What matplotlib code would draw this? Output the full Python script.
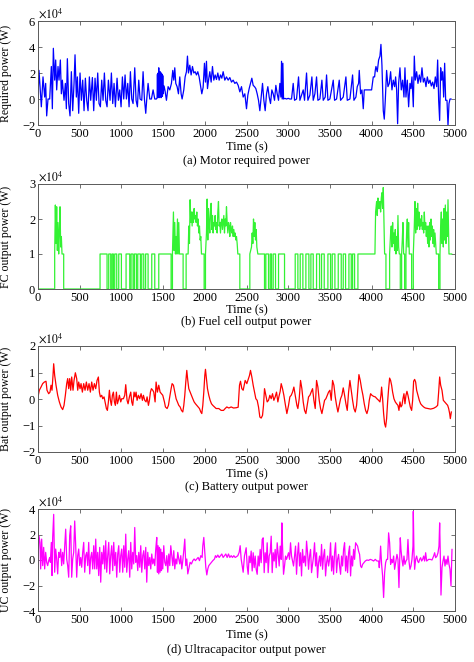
import matplotlib
matplotlib.use('Agg')
import matplotlib.pyplot as plt

# ---------------- data (values in units of 1e4 W) ----------------
t_req = [0,12,40,60,80,92,104,120,140,160,172,184,200,212,224,240,252,268,280,292,312,328,340,352,368,384,400,416,432,444,460,472,488,504,520,536,552,568,584,600,616,632,652,668,684,700,716,732,748,764,780,796,812,828,844,864,880,896,912,928,948,964,980,996,1012,1028,1044,1060,1076,1092,1108,1124,1140,1160,1176,1192,1208,1224,1244,1260,1276,1292,1304,1320,1340,1360,1380,1400,1420,
         1428,1432,1436,1440,1444,1448,1452,1456,1460,1464,1468,1472,1476,1480,1484,1488,1492,1496,1500,
         1512,1524,1540,1560,1580,1600,1616,1628,1640,1652,1668,1684,1700,1716,1728,1748,1764,1780,1792,1804,1820,1836,1852,1868,1884,1900,1916,1932,1948,1964,1980,1996,2008,2020,2032,2048,2060,2076,2092,2108,2124,2140,2156,2172,2188,2204,2220,2240,2260,2280,2300,2320,2340,2360,2380,2400,2420,2440,2460,2480,2500,2516,2532,2548,2564,2580,2596,2612,2628,2644,2660,2676,2692,2708,2724,2740,2756,2772,2788,2804,2820,2836,2852,2868,2884,2900,2912,2920,2928,2936,2944,2960,2980,3000,3020,3040,3060,3076,3100,3124,3140,3160,3180,3196,3220,3236,3260,3284,3300,3320,3340,3356,3380,3404,3420,3444,3460,3476,3500,3540,3556,3580,3612,3628,3660,3692,3708,3740,3772,3788,3812,3828,3844,3852,3868,3884,3900,3912,3960,4000,4020,4036,4044,4052,4068,4084,4100,4112,4124,4132,4140,4152,4164,4180,4196,4212,4228,4244,4260,4276,4288,4300,4312,4324,4340,4356,4372,4388,4400,4412,4428,4444,4460,4472,4484,4500,4512,4524,4540,4556,4572,4588,4604,4620,4636,4652,4668,4684,4700,4716,4732,4748,4764,4780,4792,4804,4816,4828,4840,4852,4864,4876,4888,4904,4916,4928,4940,4952]
p_req = [0.1,2.2,-0.6,1.7,0.15,1.2,-1.3,0.0,0.0,2.5,-0.75,3.9,1.45,3.0,0.7,2.5,1.45,3.0,0.4,1.45,-0.1,1.2,-0.75,3.1,-0.35,-1.3,2.1,-0.9,1.2,3.4,0.15,1.7,-1.1,2.0,-0.1,1.45,-0.9,1.6,-0.1,-0.9,1.7,-0.1,1.65,-0.9,1.6,-0.1,2.0,-0.35,-0.6,1.45,-0.1,2.0,-0.1,-0.6,1.45,-0.1,2.0,-0.35,1.2,-0.6,1.6,-0.1,0.7,-0.6,1.7,0.0,1.85,0.0,1.2,-0.6,2.1,0.0,-0.35,2.4,-0.1,-0.6,1.45,0.0,-0.1,2.1,0.0,-1.1,0.0,1.2,0.0,0.0,0.7,0.0,0.0,
         0.1,1.9,0.1,2.0,0.2,2.4,0.1,2.0,0.3,2.1,0.2,1.9,0.1,2.0,0.4,1.9,0.2,1.8,0.4,
         1.0,0.6,-0.1,0.95,0.7,1.2,2.2,1.45,2.4,1.2,0.95,0.4,1.7,0.4,0.0,0.7,1.7,2.1,3.3,2.0,2.6,1.85,2.5,2.0,2.1,1.85,2.1,1.7,1.05,0.4,0.9,2.75,1.3,2.9,0.8,1.6,2.1,1.3,2.5,1.45,1.85,1.5,2.0,1.45,1.85,1.6,2.1,1.45,1.7,1.45,1.65,1.3,1.45,1.2,1.3,1.05,0.55,0.95,0.15,0.4,-0.75,0.3,0.8,1.2,1.6,1.05,0.95,0.8,0.4,-0.1,-0.9,0.15,1.2,-0.1,-0.9,0.4,0.95,0.15,-0.35,0.7,0.4,-0.1,1.05,0.4,-0.1,1.2,0.15,2.9,0.0,2.75,0.0,0.05,0.0,0.05,0.0,0.0,1.2,-0.1,0.0,1.7,-0.1,0.3,0.7,-0.1,2.0,-0.1,0.3,1.7,-0.1,0.4,1.7,-0.1,0.0,1.45,-0.1,0.15,1.85,-0.1,0.0,1.45,-0.1,0.0,1.45,-0.1,0.15,1.7,-0.1,0.0,1.85,-0.1,0.15,0.95,1.2,2.2,0.4,0.7,-0.75,0.7,0.7,0.7,1.7,1.7,2.2,2.5,2.1,3.0,3.3,4.2,2.6,0.95,-0.9,-1.55,-0.1,2.2,0.95,1.2,2.1,0.7,1.45,0.95,1.7,0.7,-1.9,1.2,2.4,0.7,1.45,0.15,2.4,0.15,1.45,-0.6,1.2,0.8,1.7,-0.6,3.3,1.45,2.1,1.2,1.85,1.3,2.4,1.3,1.6,0.95,1.7,1.2,1.45,1.0,1.3,0.8,1.7,0.95,3.0,-0.1,-1.65,2.4,1.45,2.1,0.15,2.75,-0.1,-0.1,-2.05,-0.35,0.0,0.0]

t_fc = [0,200,200,208,216,224,232,240,248,256,264,272,280,288,300,308,308,744,744,828,828,848,848,872,872,888,888,904,904,920,920,944,944,968,968,1000,1000,1056,1056,1100,1100,1116,1116,1140,1140,1156,1156,1180,1180,1196,1196,1228,1228,1244,1244,1268,1268,1290,1290,1320,1320,1364,1364,1400,1400,1448,1448,1596,1596,1612,1612,
        1624,1632,1640,1648,1656,1664,1672,1680,1688,1696,1720,1740,1740,1776,1776,1800,1808,1816,1824,1832,1840,1848,1856,1864,1872,1880,1888,1896,1904,1912,1920,1928,1936,1944,1952,1960,1992,1992,2008,2008,
        2020,2028,2036,2044,2052,2060,2068,2076,2084,2092,2100,2108,2116,2124,2132,2140,2148,2156,2164,2172,2180,2188,2196,2204,2212,2220,2228,2236,2244,2252,2260,2268,2276,2284,2292,2300,2308,2316,2324,2332,2340,2348,2356,2364,2372,2380,2388,2396,2420,2420,2540,2540,
        2560,2568,2576,2584,2592,2600,2608,2616,2624,2636,2716,2716,2732,2732,2764,2764,2784,2784,2800,2800,2820,2820,2848,2848,2884,2884,2956,2956,3084,3084,3116,3116,3144,3144,3176,3176,3212,3212,3248,3248,3272,3272,3300,3300,3340,3340,3376,3376,3400,3400,3432,3432,3476,3476,3508,3508,3528,3528,3560,3560,3600,3600,3636,3636,3660,3660,3688,3688,3728,3728,3756,3756,3772,3772,3796,3796,3836,3836,
        4040,4048,4060,4068,4076,4084,4092,4100,4108,4116,4124,4132,4140,4148,4156,4172,4172,4216,4216,4228,4236,4244,4252,4260,4268,4276,4284,4292,4300,4308,4316,4324,4332,4344,4344,4360,4360,4368,4376,4384,4396,4396,4412,4412,4420,4428,4436,4444,4452,4480,4480,4500,4500,
        4512,4520,4528,4536,4544,4552,4560,4568,4576,4584,4592,4600,4608,4616,4624,4632,4640,4648,4656,4664,4672,4680,4688,4696,4704,4712,4720,4728,4736,4744,4752,4760,4768,4776,4784,4804,4804,4820,4820,4828,4836,4844,4852,4860,4868,4876,4884,4892,4900,4908,4916,4928,4960]
p_fc = [0,0,1.0,2.4,1.3,2.35,1.1,1.9,1.0,1.6,2.35,1.2,1.5,1.0,1.0,1.0,0,0,1,1,0,0,1,1,0,0,1,1,0,0,1,1,0,0,1,1,0,0,1,1,0,0,1,1,0,0,1,1,0,0,1,1,0,0,1,1,0,0,1,1,0,0,1,1,0,0,1,1,0,0,1,
        2.2,1.1,1.9,1.0,1.5,1.0,2.0,1.0,1.9,1.0,1.0,1.0,0,0,1.0,1.0,1.8,1.3,2.55,1.9,2.2,1.8,2.2,1.9,2.3,2.0,2.1,1.9,2.2,1.8,2.0,1.6,1.8,1.4,1.5,1.0,1.0,0,0,1.0,
        1.6,2.57,1.4,2.3,1.9,1.6,2.2,2.45,1.7,2.1,1.6,1.9,1.8,2.1,1.7,1.9,1.6,2.2,2.5,1.8,1.9,1.6,1.9,2.0,1.7,1.9,2.1,1.6,2.0,1.8,2.35,1.9,1.6,1.9,1.8,1.5,1.9,1.7,1.6,1.8,1.5,1.7,1.5,1.6,1.4,1.5,1.3,1.0,1.0,0,0,1.0,
        1.2,1.6,1.3,2.0,1.5,1.9,1.4,1.7,1.2,1.0,1.0,0,0,1,1,0,0,1,1,0,0,1,1,0,0,1,1,0,0,1,1,0,0,1,1,0,0,1,1,0,0,1,1,0,0,1,1,0,0,1,1,0,0,1,1,0,0,1,1,0,0,1,1,0,0,1,1,0,0,1,1,0,0,1,1,0,0,1,
        1.0,2.2,2.5,2.1,2.6,2.3,2.3,2.5,2.2,2.6,2.75,2.3,2.9,2.0,1.0,1.0,0,0,1.0,1.6,1.8,1.2,1.9,1.3,1.6,1.1,1.7,1.0,1.5,1.1,2.1,1.2,1.0,1.0,0,0,1.0,1.4,1.9,1.0,1.0,0,0,1.0,1.6,2.0,1.2,1.9,1.0,1.0,0,0,1.0,
        1.8,2.5,1.6,2.3,1.7,2.45,1.8,2.2,1.7,2.0,1.8,2.1,1.7,1.9,1.6,2.2,1.7,1.9,1.5,1.8,1.3,1.8,1.2,1.9,1.4,2.0,1.5,1.8,1.3,1.7,1.2,1.6,1.3,1.0,1.0,1.0,0,0,1.0,1.8,2.2,1.3,2.0,1.2,2.3,1.4,2.4,1.3,2.2,1.5,2.55,1.0,1.0]

t_bat = [0,16,36,56,76,96,108,128,144,156,168,180,188,200,216,236,256,276,296,312,328,344,356,368,380,392,404,420,432,448,464,476,488,504,516,532,548,564,580,596,612,628,644,660,676,692,708,724,736,748,764,776,792,808,820,832,844,856,868,880,892,904,916,928,940,952,964,976,992,1004,1024,1040,1052,1068,1080,1096,1112,1124,1136,1152,1164,1176,1188,1204,1220,1236,1252,1264,1280,1296,1308,1324,1336,1348,1360,1376,1388,1404,1416,1432,1448,1464,1480,1496,1516,1528,1548,1564,1576,1596,1608,1624,1640,1656,1672,1688,1704,1720,1736,1748,1760,1772,1784,1796,1808,1824,1840,1856,1872,1888,1904,1920,1936,1952,1964,1976,1988,2000,2008,2020,2032,2048,2064,2080,2096,2116,2136,2168,2196,2224,2244,2264,2288,2316,2344,2376,2400,2416,2428,2444,2460,2476,
         2484,2504,2524,2536,2548,2564,2580,2596,2612,2628,2644,2660,2676,2692,2704,2716,2732,2748,2764,2780,2796,2812,2828,2844,2860,2876,2888,2904,2916,2932,2948,2964,2984,3004,3020,3036,3052,3068,3084,3104,3116,3132,3148,3164,3180,3196,3212,3228,3244,3260,3276,3292,3308,3324,3340,3356,3372,3388,3404,3420,3436,3452,3468,3484,3500,3516,3532,3548,3564,3580,3596,3612,3628,3644,3660,3676,3692,3708,3724,3740,3756,3772,3788,3804,3820,3836,3848,3864,3880,3896,3912,3928,3944,3960,3972,3988,4004,4024,4044,4064,4084,4100,4112,4120,4132,4144,4156,4168,4180,4192,4204,4216,4228,4240,4252,4268,4284,4300,4316,4328,4340,4352,4364,4376,4388,4400,4412,4424,4436,4448,4464,4480,4492,4504,4516,4528,4540,4556,4572,4588,4604,4624,4644,4676,4708,4744,4772,4792,4804,4816,4828,4844,4860,4876,4896,4912,4924,4936,4944,4956]
p_bat = [0.08,0.33,0.45,0.58,0.64,0.67,0.33,0.2,0.26,0.52,0.33,0.89,1.33,0.89,0.52,0.14,-0.11,-0.3,-0.4,-0.24,0.14,0.58,0.77,0.39,0.77,0.33,0.83,0.33,0.7,0.99,0.77,0.33,0.64,0.39,0.58,0.26,0.58,0.33,0.64,0.33,0.58,0.26,0.64,0.33,0.58,0.39,0.7,0.83,0.26,0.08,0.14,0.01,0.08,-0.18,-0.36,-0.43,-0.11,0.33,-0.05,-0.24,0.14,0.26,-0.11,-0.24,0.26,-0.18,-0.05,0.14,-0.11,0.01,0.01,0.14,0.54,-0.05,-0.18,0.08,0.26,-0.11,-0.24,0.26,0.08,0.26,-0.05,0.14,0.01,0.2,-0.05,0.14,-0.05,-0.11,0.08,-0.24,-0.05,0.26,0.39,0.33,0.26,-0.11,0.64,0.26,0.52,0.26,0.2,0.14,-0.11,-0.3,-0.36,-0.24,0.01,0.39,0.58,0.52,0.26,0.01,-0.11,-0.24,-0.3,-0.43,-0.49,-0.24,0.14,0.64,1.08,0.7,0.39,0.26,0.14,0.01,-0.11,-0.18,-0.24,-0.3,-0.36,-0.49,-0.55,-0.24,0.26,0.89,1.12,0.77,0.39,0.14,-0.05,-0.18,-0.24,-0.3,-0.36,-0.36,-0.43,-0.43,-0.36,-0.3,-0.34,-0.3,-0.34,-0.33,-0.31,0.52,0.67,0.39,0.33,0.58,
         0.7,0.58,0.77,0.89,1.08,0.83,0.52,0.26,0.01,-0.05,-0.3,-0.68,-0.72,-0.62,-0.24,0.39,0.14,-0.11,-0.05,0.14,0.01,0.2,-0.05,0.08,0.26,-0.11,0.08,0.29,0.58,0.39,0.14,-0.18,-0.55,-0.24,0.08,0.14,0.26,0.45,0.14,-0.24,-0.36,0.01,0.7,0.39,-0.11,-0.43,-0.55,-0.24,0.08,0.14,0.26,0.39,-0.05,-0.36,0.7,0.45,-0.05,-0.36,-0.55,-0.3,-0.05,0.01,0.14,0.26,0.33,-0.05,0.7,0.52,0.08,-0.24,-0.49,-0.24,0.01,0.14,0.42,0.14,-0.18,-0.43,0.26,0.7,0.33,-0.05,-0.36,-0.49,-0.24,0.45,0.92,0.7,0.39,0.14,-0.18,-0.43,-0.55,-0.36,-0.05,0.2,0.14,0.1,0.08,0.01,-0.05,-0.11,0.14,0.45,0.01,-0.55,-0.93,-1.06,-0.74,-0.11,0.39,0.79,0.7,0.52,0.26,0.01,-0.11,-0.18,-0.24,-0.43,-0.11,-0.3,-0.24,0.01,0.2,-0.18,0.14,0.29,0.14,-0.05,-0.3,-0.43,-0.05,0.67,0.74,0.64,0.33,0.14,-0.05,-0.18,-0.24,-0.3,-0.34,-0.36,-0.38,-0.35,-0.3,-0.24,0.26,0.83,0.52,0.33,-0.05,-0.11,-0.18,-0.24,-0.36,-0.55,-0.74,-0.49]

t_uc = [0,12,24,32,44,56,68,80,92,104,116,128,140,148,160,168,176,188,200,212,224,236,248,260,272,284,296,308,320,332,344,356,368,380,392,404,416,428,440,452,464,476,488,500,512,524,536,548,560,572,584,596,608,620,632,644,656,668,680,692,704,716,728,740,752,764,776,788,800,812,824,836,848,860,872,884,896,908,920,932,944,956,968,980,992,1004,1016,1028,1040,1052,1064,1076,1088,1100,1112,1124,1136,1148,1160,1172,1184,1196,1208,1220,1232,1244,1256,1268,1280,1292,1304,1316,1328,1340,1352,1364,1376,1388,1400,1412,1424,1432,1440,1448,1456,1464,1472,1480,1488,1496,1508,1520,1532,1544,1556,1568,1580,1592,1604,1616,1628,1640,1652,1664,1676,1688,1700,1712,1724,1736,1748,1760,1772,1784,1796,1808,1824,1840,1856,1872,1888,1904,1920,1936,1952,1968,1976,1988,2000,2012,2024,2036,2048,2064,2080,2096,2116,2128,2140,2156,2172,2188,2204,2220,2236,2252,2268,2284,2300,2316,2332,2348,2364,2380,2396,2412,2424,2436,2448,2460,2476,
        2484,2496,2508,2520,2532,2544,2556,2568,2580,2592,2604,2616,2628,2640,2652,2664,2676,2688,2700,2712,2724,2736,2748,2760,2772,2784,2796,2808,2820,2832,2844,2856,2868,2880,2892,2904,2916,2924,2932,2944,2956,2968,2980,2992,3004,3016,3028,3040,3052,3064,3076,3088,3100,3112,3124,3136,3148,3160,3172,3184,3196,3208,3220,3232,3244,3256,3268,3280,3292,3304,3316,3328,3340,3352,3364,3376,3388,3400,3412,3424,3436,3448,3460,3472,3484,3496,3508,3520,3532,3544,3556,3568,3580,3592,3604,3616,3628,3640,3652,3664,3676,3688,3700,3712,3724,3736,3748,3760,3772,3784,3796,3808,3820,3832,3844,3856,3868,3880,3892,3908,3924,3944,3964,3984,4004,4024,4044,4064,4084,4092,4100,4108,4120,4132,4144,4156,4168,4180,4192,4204,4216,4228,4240,4252,4264,4276,4288,4304,4316,4328,4336,4344,4352,4364,4376,4388,4400,4412,4424,4436,4448,4460,4472,4484,4496,4500,4508,4516,4528,4540,4552,4564,4576,4588,4600,4612,4624,4636,4648,4660,4684,4704,4724,4744,4756,4768,4784,4796,4808,4816,4824,4832,4844,4856,4868,4880,4892,4904,4916,4928,4940,4952,4964]
p_uc = [0.08,1.9,1.38,-0.7,1.64,-0.44,0.99,-0.7,0.6,-0.18,-0.44,-0.05,0.2,-0.18,1.38,-1.22,1.77,3.58,-0.96,0.86,0.08,-1.09,0.6,0.2,0.86,-0.44,0.6,-0.31,0.99,2.42,0.08,-0.44,-1.35,1.9,2.68,-1.35,0.08,0.6,3.06,1.12,-1.35,0.34,0.86,-0.44,0.2,-0.57,0.6,1.38,-0.96,0.34,0.6,-0.44,1.38,-1.09,0.2,0.6,-0.7,1.12,-0.7,1.64,-0.7,0.6,-1.22,0.99,-1.74,0.6,-0.31,1.12,-0.7,1.51,-0.96,0.34,1.38,-1.09,0.34,1.12,-0.83,1.38,-0.44,0.6,-1.35,0.47,1.12,-0.96,0.34,0.86,-0.96,1.12,-0.57,2.03,-0.96,0.08,0.73,-1.35,1.38,-0.7,0.6,-0.31,2.55,-0.18,0.34,-0.83,0.6,-0.57,1.12,-0.96,0.34,0.73,-0.7,0.99,-1.74,0.6,-0.44,0.2,-0.7,0.47,-0.31,0.08,-0.44,0.86,1.77,-0.96,1.12,-1.09,0.99,-0.96,0.86,-0.83,0.6,-0.7,1.12,-0.18,-0.44,0.34,-0.96,0.47,-0.44,1.12,0.34,-0.44,0.73,-0.7,0.08,-0.31,0.6,0.08,-0.31,0.34,-0.7,-0.05,0.73,1.64,-0.44,0.08,-1.09,-0.7,-0.18,-0.31,-0.05,0.08,-0.05,0.08,0.2,-0.05,0.34,0.2,1.12,1.77,0.6,-0.57,-1.17,-0.7,-0.44,-0.31,-0.18,-0.05,0.08,0.34,0.2,0.39,0.2,0.34,0.47,0.2,0.34,0.47,0.2,0.47,0.2,0.34,0.2,0.34,0.2,0.26,0.34,0.6,1.12,0.08,-0.44,-0.96,0.34,
        0.57,0.96,-0.47,-1.12,0.31,-0.21,0.7,-0.86,0.57,-0.6,0.31,-0.73,-1.12,0.31,-0.47,0.83,-0.21,1.61,1.74,-0.99,0.57,-0.21,1.35,-0.99,0.31,0.57,1.87,-0.99,0.57,-0.08,0.83,-0.6,1.35,0.44,-0.47,1.09,0.05,2.91,1.09,-1.12,-0.47,0.31,0.05,0.31,0.57,0.05,1.35,0.31,-0.08,-0.47,0.31,1.09,-1.12,0.44,1.35,-0.47,0.57,-1.25,0.83,-0.21,0.31,-0.47,1.48,0.57,-0.73,0.31,0.83,-0.99,-0.34,0.31,1.35,-0.47,0.57,-1.38,-0.21,0.31,-0.47,1.22,-0.73,0.31,0.83,-1.25,-0.21,0.31,-0.47,0.05,1.35,-0.86,0.31,-1.12,0.57,1.35,-0.99,0.05,0.44,-0.47,-1.12,0.31,-0.47,0.83,1.35,-0.86,0.31,-0.99,0.57,1.09,-1.25,0.31,-0.47,0.83,0.05,1.35,1.22,1.09,0.7,0.44,-0.47,-0.6,-0.34,-0.21,-0.08,0.0,-0.03,0.05,0.0,-0.08,0.05,-0.08,-0.08,-0.6,0.05,1.09,-0.34,-1.25,-2.94,-0.99,-0.21,0.05,0.05,2.13,1.35,-0.34,0.05,-0.21,0.31,-0.73,-0.21,0.44,0.05,-2.16,-0.21,1.74,0.83,0.05,-0.47,0.31,-0.34,-0.08,0.05,1.61,-0.08,-0.73,-0.47,0.05,1.09,3.82,0.57,-0.73,0.05,0.31,-0.08,-0.21,0.05,0.18,-0.08,0.05,0.31,-0.08,0.57,-0.08,0.05,0.05,0.0,0.31,0.57,0.18,0.31,0.57,1.09,2.91,0.31,-2.75,-0.6,-0.08,0.31,-0.47,0.05,-0.34,0.31,-0.34,-0.73,-2.03,0.83]

x_ticks = [0, 500, 1000, 1500, 2000, 2500, 3000, 3500, 4000, 4500, 5000]
panels = [
    dict(t=t_req, p=p_req, color=(0.0, 0.0, 1.0), ylim=(-2, 6), yticks=[-2, 0, 2, 4, 6],
         ylabel='Required power (W)', caption='(a) Motor required power'),
    dict(t=t_fc, p=p_fc, color=(0.2, 0.95, 0.2), ylim=(0, 3), yticks=[0, 1, 2, 3],
         ylabel='FC output power (W)', caption='(b) Fuel cell output power'),
    dict(t=t_bat, p=p_bat, color=(1.0, 0.0, 0.0), ylim=(-2, 2), yticks=[-2, -1, 0, 1, 2],
         ylabel='Bat output power (W)', caption='(c) Battery output power'),
    dict(t=t_uc, p=p_uc, color=(1.0, 0.0, 1.0), ylim=(-4, 4), yticks=[-4, -2, 0, 2, 4],
         ylabel='UC output power (W)', caption='(d) Ultracapacitor output power'),
]

# ---------------- layout ----------------
plt.rcParams['font.family'] = ['Liberation Serif', 'DejaVu Serif']
plt.rcParams['mathtext.fontset'] = 'stix'
W, H = 474, 662
fig = plt.figure(figsize=(W / 100, H / 100), dpi=100)

# (top px, bottom px, xlabel-centre px, caption-centre px)
boxes = [(21, 125, 147, 161), (184, 289, 310, 322), (346, 452, 474, 487), (509, 611, 635, 650)]
left_px, right_px = 38, 455
fs = 8.5
frame_col = (0.35, 0.35, 0.35)

for pn, (top, bot, xl_y, cap_y) in zip(panels, boxes):
    ax = fig.add_axes([left_px / W, 1 - bot / H, (right_px - left_px) / W, (bot - top) / H])
    ax.plot(pn['t'], pn['p'], color=pn['color'], lw=0.9)
    ax.set_xlim(0, 5000)
    ax.set_ylim(*pn['ylim'])
    ax.set_xticks(x_ticks)
    ax.set_yticks(pn['yticks'])
    ax.tick_params(direction='in', top=True, right=True, length=3, width=0.6,
                   labelsize=fs + 0.5, color=frame_col, pad=2)
    for s in ax.spines.values():
        s.set_color(frame_col)
        s.set_linewidth(0.7)
    ax.set_ylabel(pn['ylabel'], fontsize=fs)
    ax.yaxis.set_label_coords(-0.063, 0.5)
    ax.set_xlabel('Time (s)', fontsize=fs + 0.5)
    ax.xaxis.label.set_va('center')
    ax.xaxis.set_label_coords(0.5, -(xl_y - bot) / (bot - top))
    ax.text(0.0, 1.0, r'$\times 10^{4}$', transform=ax.transAxes, ha='left', va='bottom',
            fontsize=fs)
    fig.text((left_px + right_px) / 2 / W, 1 - cap_y / H, pn['caption'], ha='center',
             va='center', fontsize=fs + 0.5)

fig.savefig('out.png', dpi=100)
